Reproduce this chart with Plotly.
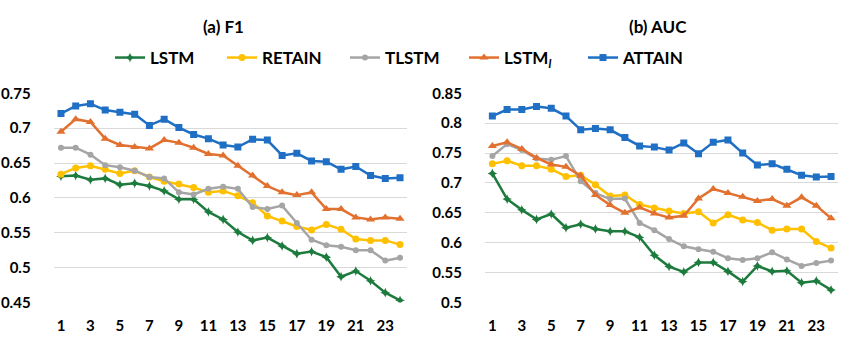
import plotly.graph_objects as go

epochs = list(range(1, 25))
x_tick_vals = list(range(1, 25, 2))
x_tick_text = [str(v) for v in x_tick_vals]

series_names = ["LSTM", "RETAIN", "TLSTM", "LSTM<sub><i>l</i></sub>", "ATTAIN"]

f1_lstm = [0.631, 0.632, 0.626, 0.628, 0.619, 0.621, 0.617, 0.610, 0.598, 0.598, 0.580, 0.569,
           0.551, 0.539, 0.543, 0.531, 0.520, 0.523, 0.515, 0.487, 0.495, 0.481, 0.464, 0.453]
f1_retain = [0.634, 0.643, 0.646, 0.641, 0.635, 0.639, 0.630, 0.624, 0.620, 0.615, 0.608, 0.610,
             0.603, 0.593, 0.574, 0.567, 0.559, 0.554, 0.562, 0.555, 0.541, 0.539, 0.539, 0.533]
f1_tlstm = [0.672, 0.672, 0.662, 0.647, 0.644, 0.639, 0.630, 0.628, 0.608, 0.605, 0.613, 0.616,
            0.613, 0.587, 0.584, 0.589, 0.564, 0.540, 0.532, 0.530, 0.525, 0.525, 0.510, 0.514]
f1_lstml = [0.695, 0.713, 0.709, 0.685, 0.676, 0.673, 0.671, 0.683, 0.679, 0.672, 0.663, 0.661,
            0.646, 0.632, 0.617, 0.608, 0.604, 0.608, 0.584, 0.584, 0.572, 0.569, 0.572, 0.570]
f1_attain = [0.721, 0.732, 0.735, 0.726, 0.723, 0.720, 0.704, 0.713, 0.701, 0.691, 0.685, 0.676,
             0.673, 0.684, 0.683, 0.661, 0.664, 0.653, 0.652, 0.641, 0.645, 0.632, 0.628, 0.629]

auc_lstm = [0.716, 0.673, 0.655, 0.639, 0.648, 0.625, 0.631, 0.623, 0.619, 0.619, 0.609, 0.579,
            0.560, 0.551, 0.567, 0.567, 0.552, 0.535, 0.561, 0.552, 0.553, 0.533, 0.536, 0.521]
auc_retain = [0.732, 0.737, 0.729, 0.729, 0.723, 0.711, 0.713, 0.697, 0.678, 0.680, 0.664, 0.658,
              0.653, 0.649, 0.652, 0.633, 0.647, 0.638, 0.634, 0.621, 0.623, 0.623, 0.602, 0.591]
auc_tlstm = [0.745, 0.765, 0.755, 0.741, 0.739, 0.745, 0.703, 0.683, 0.673, 0.674, 0.633, 0.621,
             0.606, 0.594, 0.589, 0.585, 0.574, 0.571, 0.574, 0.584, 0.572, 0.561, 0.566, 0.570]
auc_lstml = [0.762, 0.768, 0.757, 0.742, 0.731, 0.727, 0.712, 0.680, 0.663, 0.650, 0.659, 0.649,
             0.642, 0.645, 0.674, 0.690, 0.683, 0.677, 0.670, 0.673, 0.662, 0.676, 0.662, 0.641]
auc_attain = [0.812, 0.823, 0.823, 0.828, 0.825, 0.812, 0.789, 0.791, 0.789, 0.776, 0.762, 0.760,
              0.755, 0.767, 0.749, 0.768, 0.772, 0.750, 0.730, 0.732, 0.723, 0.713, 0.710, 0.711]

f1_tick_vals = [0.45, 0.5, 0.55, 0.6, 0.65, 0.7, 0.75]
f1_tick_text = ["0.45", "0.5", "0.55", "0.6", "0.65", "0.7", "0.75"]
auc_tick_vals = [0.5, 0.55, 0.6, 0.65, 0.7, 0.75, 0.8, 0.85]
auc_tick_text = ["0.5", "0.55", "0.6", "0.65", "0.7", "0.75", "0.8", "0.85"]

titles = ["(a) F1", "(b) AUC"]

colors = ["#1E7B3E", "#FFC000", "#A5A5A5", "#E2702F", "#1F6FC4"]
symbols = ["star-diamond", "circle", "circle", "triangle-up", "square"]
msizes = [7, 7, 6, 8, 7]

FONT = "Lato"

fig = go.Figure()
f1_sets = [f1_lstm, f1_retain, f1_tlstm, f1_lstml, f1_attain]
auc_sets = [auc_lstm, auc_retain, auc_tlstm, auc_lstml, auc_attain]
legend_ids = ["legend", "legend2", "legend3", "legend4", "legend5"]

for i in range(5):
    fig.add_trace(go.Scatter(
        x=epochs, y=f1_sets[i], name=series_names[i], mode="lines+markers",
        line=dict(color=colors[i], width=2.5),
        marker=dict(symbol=symbols[i], size=msizes[i], color=colors[i]),
        xaxis="x", yaxis="y", legend=legend_ids[i], showlegend=True))
for i in range(5):
    fig.add_trace(go.Scatter(
        x=epochs, y=auc_sets[i], name=series_names[i], mode="lines+markers",
        line=dict(color=colors[i], width=2.5),
        marker=dict(symbol=symbols[i], size=msizes[i], color=colors[i]),
        xaxis="x2", yaxis="y2", showlegend=False))

tickfont = dict(family=FONT, size=15, color="#000000", weight="bold")

common_x = dict(range=[0.5, 24.5], tickmode="array", tickvals=x_tick_vals, ticktext=x_tick_text,
                showgrid=False, zeroline=False, showline=False, ticks="", tickfont=tickfont,
                ticklabelstandoff=12, fixedrange=True, automargin=False)
common_y = dict(tickmode="array", showgrid=True, gridcolor="#D9D9D9", gridwidth=1,
                zeroline=False, showline=False, ticks="", tickfont=tickfont,
                ticklabelstandoff=22, fixedrange=True, automargin=False)

ydom = [1 - 302.5 / 343, 1 - 93.3 / 343]
legend_text_x = [150, 262, 385, 504, 623]
legends = {}
for i, lid in enumerate(legend_ids):
    legends[lid] = dict(x=(legend_text_x[i] - 40) / 846, y=1 - 58 / 343, xanchor="left", yanchor="middle",
                        orientation="h", bgcolor="rgba(0,0,0,0)", borderwidth=0, itemwidth=30,
                        font=dict(family=FONT, size=17, color="#000000", weight="bold"))

fig.update_layout(
    width=846, height=343,
    margin=dict(l=0, r=0, t=0, b=0, autoexpand=False),
    paper_bgcolor="white", plot_bgcolor="white",
    xaxis=dict(domain=[53.6 / 846, 407.4 / 846], anchor="y", **common_x),
    yaxis=dict(domain=ydom, anchor="x", range=[0.4499, 0.7501],
               tickvals=f1_tick_vals, ticktext=f1_tick_text, **common_y),
    xaxis2=dict(domain=[485.0 / 846, 838.4 / 846], anchor="y2", **common_x),
    yaxis2=dict(domain=ydom, anchor="x2", range=[0.4999, 0.8501],
                tickvals=auc_tick_vals, ticktext=auc_tick_text, **common_y),
    annotations=[
        dict(text=titles[0], x=223 / 846, y=1 - 26 / 343, xref="paper", yref="paper",
             showarrow=False, xanchor="center", yanchor="middle",
             font=dict(family=FONT, size=17, color="#000000", weight="bold")),
        dict(text=titles[1], x=658 / 846, y=1 - 26 / 343, xref="paper", yref="paper",
             showarrow=False, xanchor="center", yanchor="middle",
             font=dict(family=FONT, size=17, color="#000000", weight="bold")),
    ],
    **legends,
)

fig.write_html("out.html", config={"displayModeBar": False},
               post_script="document.body.style.margin='0';document.body.style.overflow='hidden';")
